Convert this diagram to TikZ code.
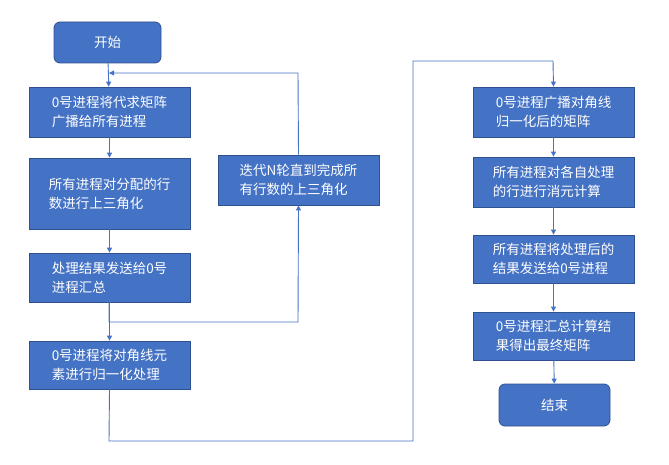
\documentclass[tikz,border=0pt]{standalone}
\usepackage{fontspec}
\setmainfont{Noto Sans CJK SC}
\usetikzlibrary{arrows.meta}
\definecolor{fillb}{HTML}{4472C4}
\definecolor{edgeb}{HTML}{2F528F}
\tikzset{
 box/.style={draw=edgeb,fill=fillb,text=white,line width=0.8pt,align=left,inner sep=0pt,font=\fontsize{13.5}{19}\selectfont},
 term/.style={box,rounded corners=6pt,align=center},
 conn/.style={draw=fillb,line width=0.9pt,-{Triangle[length=5pt,width=5pt]}},
}
\begin{document}
\begin{tikzpicture}[x=1pt,y=-1pt]
\useasboundingbox (0,0) rectangle (669,465);
\newcommand{\bx}[6]{\node[#6,minimum width=#3-#1,minimum height=#4-#2] (#5) at ({(#1+#3)/2},{(#2+#4)/2})}
\bx{54}{22}{161}{63}{s}{term}{开始};
\bx{29}{87}{190}{137}{a}{box}{0号进程将代求矩阵\\广播给所有进程};
\bx{29}{158}{190}{229}{b}{box}{所有进程对分配的行\\数进行上三角化};
\bx{29}{253}{190}{302}{c}{box}{处理结果发送给0号\\进程汇总};
\bx{29}{341}{190}{389}{d}{box}{0号进程将对角线元\\素进行归一化处理};
\bx{218}{155}{379}{205}{e}{box}{迭代N轮直到完成所\\有行数的上三角化};
\bx{473}{87}{634}{137}{r1}{box}{0号进程广播对角线\\归一化后的矩阵};
\bx{473}{157}{634}{207}{r2}{box}{所有进程对各自处理\\的行进行消元计算};
\bx{473}{235}{634}{283}{r3}{box}{所有进程将处理后的\\结果发送给0号进程};
\bx{473}{312}{634}{360}{r4}{box}{0号进程汇总计算结\\果得出最终矩阵};
\bx{499}{384}{610}{426}{t}{term}{结束};
\coordinate (j1) at (109,73);
\coordinate (j2) at (109,322);
\draw[conn] (s) -- (a);
\draw[conn] (a) -- (b);
\draw[conn] (b) -- (c);
\draw[conn] (c) -- (d);
\draw[conn] (c.south -| j2) -- (j2) -- (298,322) -- (e.south);
\draw[conn] (e.north) -- (298,73) -- (j1);
\draw[conn] (d.south) -- (109,441) -- (413,441) -- (413,61) -- (553,61) -- (r1.north);
\draw[conn] (r1) -- (r2);
\draw[conn] (r2) -- (r3);
\draw[conn] (r3) -- (r4);
\draw[conn] (r4) -- (t);
\end{tikzpicture}
\end{document}
